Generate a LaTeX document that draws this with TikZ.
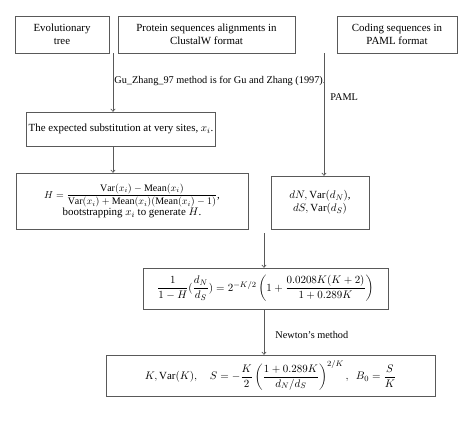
\documentclass[tikz,border=0pt]{standalone}
\usepackage{amsmath}
\usepackage{fontspec}
\setmainfont{Liberation Serif}
\usetikzlibrary{arrows.meta}

\begin{document}
\begin{tikzpicture}[x=1pt,y=-1pt]
	\tikzstyle{box} = [rectangle, draw=black!65, line width=0.7pt, align=center, inner sep=2pt, font=\fontsize{10.9}{12.5}\selectfont];
	\tikzstyle{link} = [draw=black!65, line width=0.7pt, -{To[length=3pt,width=5pt]}];
	\tikzstyle{lab} = [font=\fontsize{10.3}{12}\selectfont, inner sep=0pt];
	
	\useasboundingbox (0,0) rectangle (474,424);
	
	% inputs
	\node[box, minimum width=94pt, minimum height=37pt] (tree) at (62,34.5) {Evolutionary\\tree};
	\node[box, minimum width=177pt, minimum height=37pt] (prot) at (206.5,34.5) {Protein sequences alignments in\\ClustalW format};
	\node[box, minimum width=120pt, minimum height=37pt] (cod) at (397,34.5) {Coding sequences in\\PAML format};
	
	\coordinate (split) at (113,53);
	\coordinate (paml) at (324,53);
	
	% middle row
	\node[box, minimum width=182pt, minimum height=34pt] (subst) at (121,129) {The expected substitution at very sites, $x_i$.};
	\node[box, minimum width=232pt, minimum height=56pt] (hval) at (132,201)
	{{\fontsize{10}{12}\selectfont$H=\dfrac{\mathrm{Var}(x_i)-\mathrm{Mean}(x_i)}{\mathrm{Var}(x_i)+\mathrm{Mean}(x_i)(\mathrm{Mean}(x_i)-1)}$},\\
		bootstrapping $x_i$ to generate $H$.};
	\node[box, minimum width=98pt, minimum height=53pt] (dnds) at (320,202.5) {$dN,\mathrm{Var}(d_N)$,\\$dS,\mathrm{Var}(d_S)$};
	
	\coordinate (join) at (264,233);
	
	% bottom
	\node[box, minimum width=245pt, minimum height=41pt] (eq) at (265.5,288.5)
	{$\dfrac{1}{1-H}(\dfrac{d_N}{d_S})=2^{-K/2}\left(1+\dfrac{0.0208K(K+2)}{1+0.289K}\right)$};
	\node[box, minimum width=329pt, minimum height=41pt] (kval) at (270.5,375.5)
	{$K,\mathrm{Var}(K),\quad S=-\dfrac{K}{2}\left(\dfrac{1+0.289K}{d_N/d_S}\right)^{2/K},\ \ B_0=\dfrac{S}{K}$};
	
	\draw[link] (split) -- node[lab, right=1pt, pos=0.47] (gu) {Gu\_Zhang\_97 method is for Gu and Zhang (1997).} (split |- subst.north);
	\draw[link] (paml) -- node[lab, right=6pt, pos=0.36] (pl) {PAML} (paml |- dnds.north);
	\draw[link] (subst.south -| split) -- (hval.north -| split);
	\draw[link] (join) -- (eq.north -| join);
	\draw[link] (eq.south -| join) -- node[lab, right=11pt, pos=0.57] (nm) {Newton's method} (kval.north -| join);
\end{tikzpicture}
\end{document}
